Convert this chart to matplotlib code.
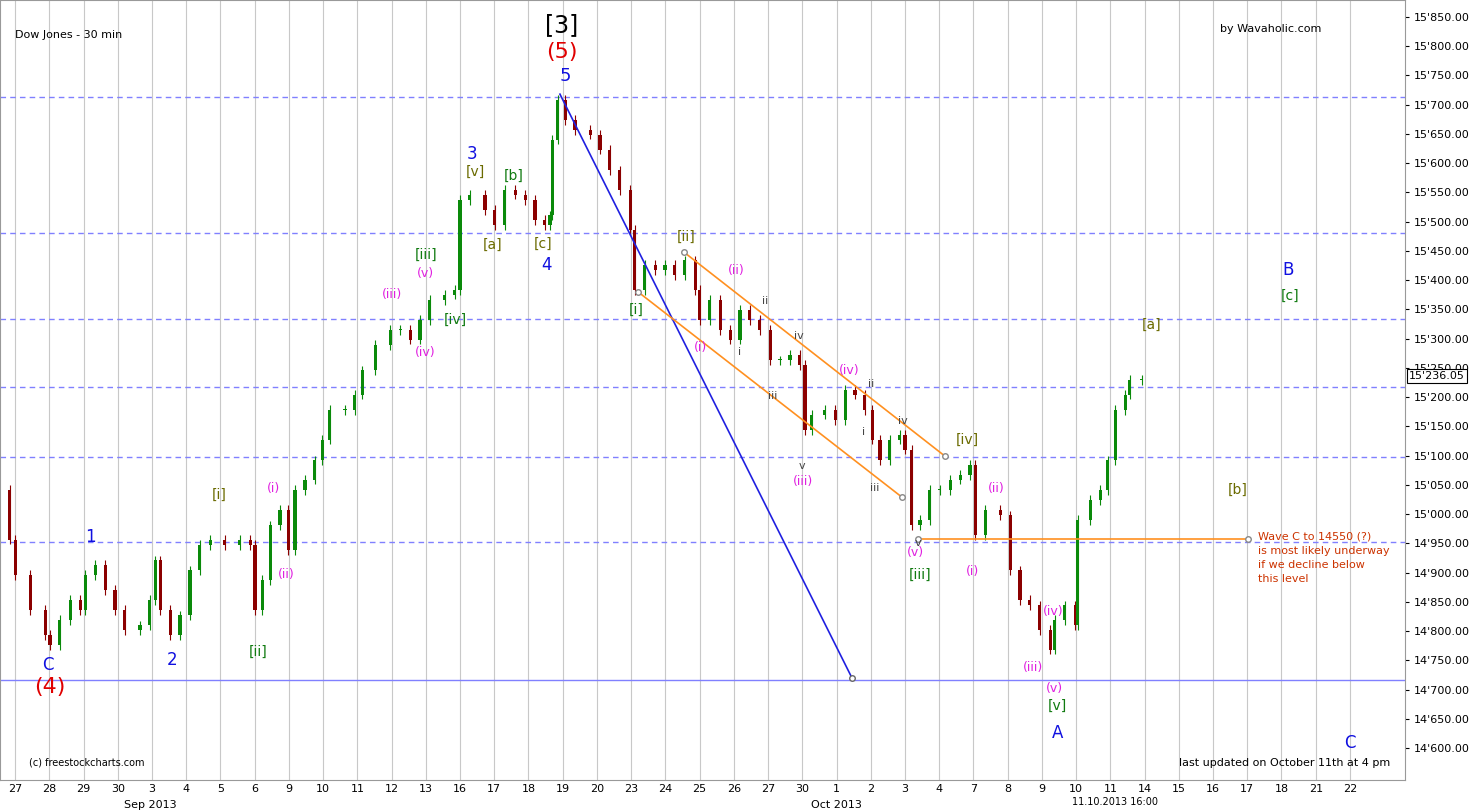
import matplotlib

matplotlib.use("Agg")

import matplotlib.pyplot as plt
import numpy as np

# trading-day index (0 = Aug 27) and 30-min closes
bar_day = [-0.44, -0.15, 0, 0.44, 0.88, 1.02, 1.31, 1.61, 1.9, 2.05, 2.34, 2.63, 2.92, 3.21, 3.65,
           3.94, 4.09, 4.24, 4.53, 4.82, 5.11, 5.4, 5.7, 6.13, 6.57, 6.87, 7.01, 7.22, 7.45, 7.74,
           7.98, 8.18, 8.47, 8.76, 8.97, 9.2, 9.64, 9.93, 10.14, 10.52, 10.96, 11.25, 11.54, 11.83,
           12.12, 12.56, 12.85, 13.0, 13.29, 13.73, 14.02, 14.31, 14.61, 14.9, 15.19, 15.48, 15.63,
           15.69, 15.86, 16.07, 16.36, 16.8, 17.09, 17.38, 17.67, 17.97, 18.11, 18.4, 18.7, 18.99,
           19.28, 19.57, 19.87, 20.01, 20.3, 20.6, 20.89, 21.18, 21.47, 21.76, 22.06, 22.35, 22.64,
           22.93, 23.08, 23.28, 23.66, 23.96, 24.25, 24.54, 24.83, 25.04, 25.27, 25.56, 25.85, 26.0,
           26.2, 26.44, 26.73, 27.02, 27.32, 27.61, 27.9, 28.05, 28.34, 28.78, 29.07, 29.36, 29.65,
           29.94, 30.24, 30.38, 30.67, 30.97, 31.05, 31.41, 31.7, 31.93, 32.14, 32.43, 32.57, 32.92]
bar_close = [15041, 14956, 14896, 14836, 14793, 14776, 14819, 14853, 14836, 14896, 14913, 14870,
             14836, 14802, 14810, 14853, 14921, 14836, 14793, 14827, 14904, 14947, 14956, 14947,
             14956, 14947, 14836, 14887, 14981, 15007, 14938, 15041, 15059, 15092, 15127, 15178,
             15178, 15204, 15246, 15289, 15315, 15315, 15298, 15332, 15366, 15375, 15383, 15537,
             15546, 15520, 15494, 15554, 15546, 15537, 15503, 15494, 15511, 15640, 15708, 15674,
             15657, 15649, 15623, 15588, 15554, 15486, 15383, 15426, 15417, 15426, 15409, 15434,
             15383, 15332, 15366, 15315, 15298, 15349, 15332, 15315, 15263, 15263, 15272, 15255,
             15144, 15170, 15178, 15161, 15212, 15204, 15178, 15127, 15092, 15127, 15135, 15110,
             14981, 14990, 15041, 15041, 15059, 15067, 15084, 14964, 15007, 14998, 14904, 14853,
             14844, 14802, 14768, 14819, 14844, 14810, 14990, 15024, 15041, 15092, 15178, 15204,
             15229, 15229]

day_ticks = ["27", "28", "29", "30", "3", "4", "5", "6", "9", "10", "11", "12", "13", "16", "17",
             "18", "19", "20", "23", "24", "25", "26", "27", "30", "1", "2", "3", "4", "7", "8",
             "9", "10", "11", "14", "15", "16", "17", "18", "21", "22"]
levels_dashed = [15713, 15480, 15333, 15218, 15098, 14953]
level_solid = 14717
price_ticks = np.arange(14600, 15851, 50)
last_price = 15236.05

# wave labels: (text, day, price, colour, size)
blue = "#1010e0"
red = "#e00000"
olive = "#6b6b00"
green = "#107a10"
mag = "#e020e0"
grey = "#444444"
labels = [
    ("[3]", 15.98, 15836, "black", 17), ("(5)", 15.98, 15790, red, 16), ("5", 16.07, 15749, blue, 13),
    ("3", 13.35, 15616, blue, 12), ("4", 15.54, 15426, blue, 12), ("1", 2.19, 14961, blue, 12),
    ("2", 4.59, 14750, blue, 12), ("C", 0.96, 14742, blue, 12), ("(4)", 1.02, 14704, red, 16),
    ("A", 30.47, 14626, blue, 12), ("B", 37.19, 15417, blue, 12), ("C", 39.0, 14609, blue, 12),
    ("[v]", 13.44, 15585, olive, 10), ("[b]", 14.58, 15578, green, 10), ("[a]", 13.96, 15460, olive, 10),
    ("[c]", 15.42, 15462, olive, 10), ("[iv]", 12.85, 15332, green, 10), ("[iii]", 12.0, 15443, green, 10),
    ("[i]", 5.96, 15033, olive, 10), ("[ii]", 7.1, 14765, green, 10), ("[i]", 18.14, 15349, green, 10),
    ("[ii]", 19.6, 15474, olive, 10), ("[iii]", 26.44, 14896, green, 10), ("[iv]", 27.81, 15127, olive, 10),
    ("[v]", 30.44, 14672, green, 10), ("[a]", 33.2, 15323, olive, 10), ("[b]", 35.73, 15041, olive, 10),
    ("[c]", 37.25, 15373, green, 10),
    ("(iii)", 11.01, 15376, mag, 9), ("(v)", 12.0, 15412, mag, 9), ("(iv)", 11.98, 15277, mag, 9),
    ("(i)", 7.54, 15044, mag, 9), ("(ii)", 7.92, 14896, mag, 9), ("(ii)", 21.06, 15417, mag, 9),
    ("(i)", 20.04, 15285, mag, 9), ("(iii)", 23.02, 15055, mag, 9), ("(iv)", 24.36, 15245, mag, 9),
    ("(v)", 26.3, 14934, mag, 9), ("(ii)", 28.66, 15044, mag, 9), ("(i)", 27.96, 14901, mag, 9),
    ("(iv)", 30.33, 14833, mag, 9), ("(iii)", 29.74, 14738, mag, 9), ("(v)", 30.38, 14702, mag, 9),
    ("ii", 21.91, 15364, grey, 8), ("i", 21.18, 15277, grey, 8), ("iii", 22.14, 15202, grey, 8),
    ("iv", 22.9, 15305, grey, 8), ("v", 22.99, 15082, grey, 8), ("ii", 25.0, 15222, grey, 8),
    ("i", 24.8, 15140, grey, 8), ("iii", 25.12, 15044, grey, 8), ("iv", 25.94, 15159, grey, 8),
    ("v", 26.38, 14951, grey, 8),
]

fig = plt.figure(figsize=(14.72, 8.11), dpi=100)
ax = fig.add_axes([0.0, 0.038, 0.9545, 0.962])
ax.set_xlim(-0.44, 40.61)
ax.set_ylim(14545, 15879)

for d in range(len(day_ticks)):
    ax.axvline(d, color="#c8c8c8", lw=0.8, zorder=0)
for lv in levels_dashed:
    ax.axhline(lv, color="#8080ff", lw=1, ls=(0, (4, 3)), zorder=1)
ax.axhline(level_solid, color="#8080ff", lw=1, zorder=1)

# candles: open = previous close
width = 0.09
for i in range(1, len(bar_day)):
    o, c = bar_close[i - 1], bar_close[i]
    col = "#0a8a0a" if c >= o else "#8b0000"
    ax.vlines(bar_day[i], min(o, c) - 8, max(o, c) + 8, color=col, lw=0.8, zorder=3)
    ax.bar(bar_day[i], max(abs(c - o), 2), bottom=min(o, c), width=width, color=col, zorder=3)

# trend lines
ax.plot([15.92, 24.45], [15718, 14720], color="#2020e0", lw=1.2, zorder=4)
ax.plot([24.45], [14720], "o", mfc="white", mec="#666666", ms=4, zorder=5)
orange = "#ff9020"
for (x0, y0), (x1, y1) in [((19.54, 15448), (27.17, 15099)), ((18.2, 15380), (25.91, 15029)),
                           ((26.38, 14957), (36.02, 14957))]:
    ax.plot([x0, x1], [y0, y1], color=orange, lw=1.2, zorder=4)
    ax.plot([x0, x1], [y0, y1], "o", mfc="white", mec="#888888", ms=4, zorder=5)

for txt, x, y, col, size in labels:
    ax.text(x, y, txt, color=col, fontsize=size, ha="center", va="center", zorder=6)

ax.text(36.3, 14970, "Wave C to 14550 (?)\nis most likely underway\nif we decline below\nthis level",
        color="#cc3300", fontsize=8, va="top", linespacing=1.5)
ax.text(0.0, 15820, "Dow Jones - 30 min", fontsize=8, va="center")
ax.text(35.2, 15830, "by Wavaholic.com", fontsize=8, va="center")
ax.text(0.4, 14575, "(c) freestockcharts.com", fontsize=7, va="center")
ax.text(34.0, 14574, "last updated on October 11th at 4 pm", fontsize=8, va="center")

ax.set_xticks(range(len(day_ticks)))
ax.set_xticklabels(day_ticks, fontsize=8)
ax.tick_params(axis="x", length=0, pad=3)
ax.yaxis.tick_right()
ax.set_yticks(price_ticks)
ax.set_yticklabels([f"{p:,.2f}".replace(",", "'") for p in price_ticks], fontsize=8)
ax.tick_params(axis="y", length=3, pad=3)
ax.text(1.003, (last_price - 14545) / (15879 - 14545), f"{last_price:,.2f}".replace(",", "'"),
        transform=ax.transAxes, fontsize=8, va="center",
        bbox=dict(boxstyle="square,pad=0.2", fc="white", ec="black", lw=0.8))
fig.text(150 / 1472, 0.004, "Sep 2013", fontsize=8, ha="center")
fig.text(836 / 1472, 0.004, "Oct 2013", fontsize=8, ha="center")
fig.text(1115 / 1472, 0.008, "11.10.2013 16:00", fontsize=7, ha="center")
for s in ax.spines.values():
    s.set_color("#999999")

fig.savefig("out.png", dpi=100)
